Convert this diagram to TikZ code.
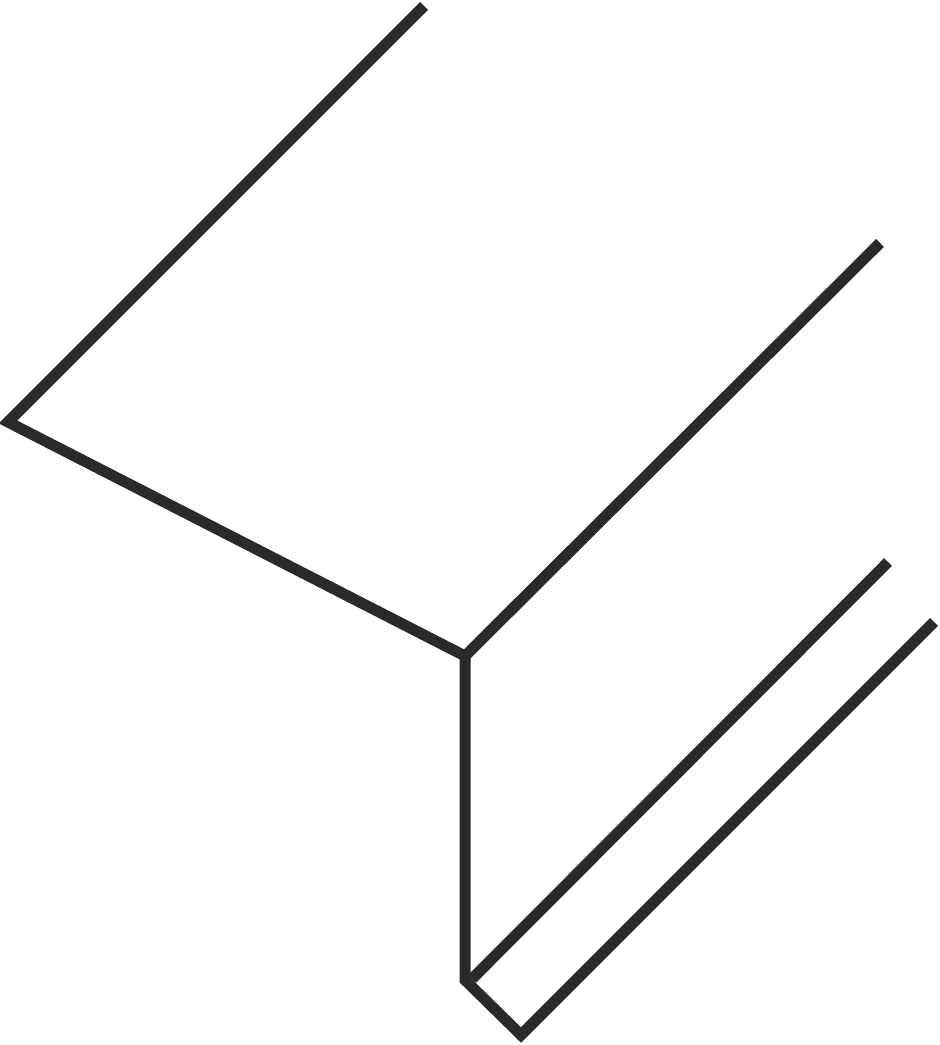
\documentclass[tikz,border=0pt]{standalone}
\usepackage{tikz}
\usetikzlibrary{positioning}
\definecolor{inkgray}{HTML}{2A2A2A}

\begin{document}
\begin{tikzpicture}[x=0.02cm, y=-0.02cm,
                    stroke/.style={draw=inkgray, line width=0.22cm, line cap=butt, line join=miter}]
\useasboundingbox (0,0) rectangle (940,1045);
%
\coordinate (top)   at (424,6);
\coordinate (left)  at (8,422);
\coordinate (mid)   at (465,656);
\coordinate (upr)   at (880,243);
\coordinate (low)   at (465,980);
\coordinate (lowin) at (472,979);
\coordinate (lowr)  at (888,562);
\coordinate (bot)   at (521,1035);
\coordinate (botr)  at (934,622);

\draw[stroke] (top) -- (left) -- (mid) -- (upr);
\draw[stroke] (mid) -- (low) -- (bot) -- (botr);
\draw[stroke] (lowin) -- (lowr);
%
\end{tikzpicture}
\end{document}
